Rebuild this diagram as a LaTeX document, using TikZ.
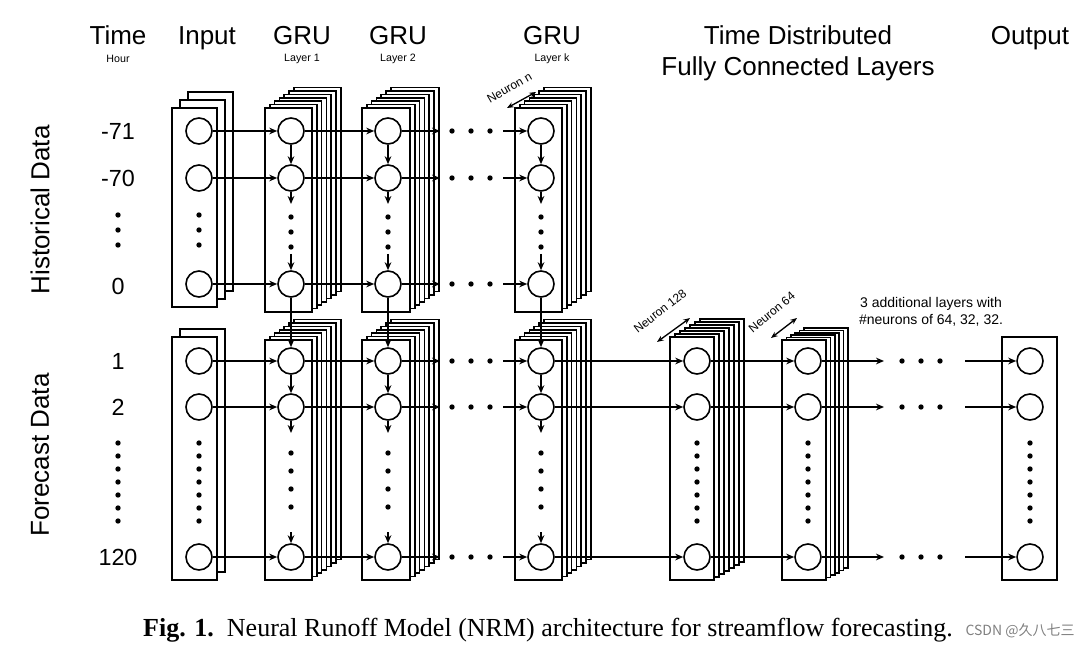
\documentclass[tikz,border=0pt]{standalone}
\usepackage{fontspec}
\setmainfont{Liberation Serif}
\newfontfamily\sansf{Liberation Sans}
\newfontfamily\cjkf{Noto Sans CJK SC}
\usetikzlibrary{arrows.meta,calc}
\newcommand\stk[7]{\foreach \k in {#7,...,0}{\draw[lay] ({#1+\k*#5},{#2+\k*#6}) rectangle ({#3+\k*#5},{#4+\k*#6});}}
\begin{document}
\begin{tikzpicture}[x=0.75pt,y=-0.75pt,
 neu/.style={circle,draw,line width=1.2pt,minimum size=19.5pt,inner sep=0pt,fill=white},
 arr/.style={-{Stealth[length=6pt,width=5pt]},line width=1.2pt},
 dar/.style={{Stealth[length=5pt,width=4pt]}-{Stealth[length=5pt,width=4pt]},line width=1pt},
 lay/.style={draw,fill=white,line width=1.2pt},
 dot/.style={circle,fill,inner sep=0pt,minimum size=4pt},
 hd/.style={font=\sansf\fontsize{19.5}{22}\selectfont,anchor=base},
 sm/.style={font=\sansf\fontsize{8}{9}\selectfont},
 nl/.style={font=\sansf\fontsize{9}{10}\selectfont,anchor=south west,inner sep=0pt},
 num/.style={font=\sansf\fontsize{17.5}{18}\selectfont}]
\useasboundingbox (0,0) rectangle (1091,648);
% headings
\node[hd] (tT) at (118,45) {Time};
\node[sm] (tH) at (118,59) {Hour};
\node[hd] (tI) at (207,45) {Input};
\node[hd] (tG1) at (302,45) {GRU};
\node[sm] (tL1) at (302,59) {Layer 1};
\node[hd] (tG2) at (398,45) {GRU};
\node[sm] (tL2) at (398,59) {Layer 2};
\node[hd] (tGk) at (552,45) {GRU};
\node[sm] (tLk) at (552,59) {Layer k};
\node[hd] (tTD) at (798,45) {Time Distributed};
\node[hd] (tFC) at (798,76) {Fully Connected Layers};
\node[hd] (tO) at (1030,45) {Output};
\node[font=\sansf\fontsize{19.5}{22}\selectfont,rotate=90] (hist) at (40,210) {Historical Data};
\node[font=\sansf\fontsize{19.5}{22}\selectfont,rotate=90] (fore) at (40,455) {Forecast Data};
% time labels
\node[num] (n71) at (118,131) {-71};
\node[num] (n70) at (118,178) {-70};
\node[num] (n0) at (118,286) {0};
\node[num] (n1) at (118,361) {1};
\node[num] (n2) at (118,407) {2};
\node[num] (n120) at (118,557) {120};
\foreach \y in {215,230,245} \node[dot] at (118,\y) {};
\foreach \y in {443,456,469,482,495,508,521} \node[dot] at (118,\y) {};
% layer boxes
\stk{172}{108}{217}{307}{8}{-8}{2}
\stk{172}{337}{217}{580}{8}{-8}{1}
\stk{265}{108}{312}{312}{4.8}{-3.4}{6}
\stk{265}{340}{312}{580}{4.8}{-3.4}{6}
\stk{362}{108}{410}{312}{4.8}{-3.4}{6}
\stk{362}{340}{410}{580}{4.8}{-3.4}{6}
\stk{515}{108}{562}{312}{4.8}{-3.4}{6}
\stk{515}{340}{562}{580}{4.8}{-3.4}{6}
\stk{670}{337}{714}{580}{5}{-3}{6}
\stk{782}{340}{826}{580}{4.4}{-2.4}{5}
\draw[lay] (1002,337) rectangle (1057,580);
% neurons
\foreach \c/\x in {in/199,ga/291,gb/388,gk/541}{
 \foreach \r/\y in {a/131,b/178,c/284}{\node[neu] (\c\r) at (\x,\y) {};}}
\foreach \c/\x in {in/199,ga/291,gb/388,gk/541,fa/697,fb/808,out/1030}{
 \foreach \r/\y in {d/361,e/407,f/557}{\node[neu] (\c\r) at (\x,\y) {};}}
% horizontal
\foreach \r/\y in {a/131,b/178,c/284,d/361,e/407,f/557}{
 \draw[arr] (in\r) -- (ga\r);
 \draw[arr] (ga\r) -- (gb\r);
 \coordinate (p\r) at (440,\y); \coordinate (q\r) at (503,\y);
 \draw[arr] (gb\r) -- (p\r);
 \draw[arr] (q\r) -- (gk\r);
 \foreach \x in {452,471,490} \node[dot] at (\x,\y) {};}
\foreach \r/\y in {d/361,e/407,f/557}{
 \draw[arr] (gk\r) -- (fa\r);
 \draw[arr] (fa\r) -- (fb\r);
 \coordinate (s\r) at (884,\y); \coordinate (t\r) at (965,\y);
 \draw[arr] (fb\r) -- (s\r);
 \draw[arr] (t\r) -- (out\r);
 \foreach \x in {902,921,940} \node[dot] at (\x,\y) {};}
% vertical
\foreach \c/\x in {ga/291,gb/388,gk/541}{
 \draw[arr] (\c a) -- (\c b);
 \coordinate (\c u) at (\x,204); \coordinate (\c v) at (\x,254);
 \draw[arr] (\c b) -- (\c u);
 \draw[arr] (\c v) -- (\c c);
 \foreach \y in {217,232,247} \node[dot] at (\x,\y) {};
 \draw[arr] (\c c) -- (\c d);
 \draw[arr] (\c d) -- (\c e);
 \coordinate (\c w) at (\x,433); \coordinate (\c z) at (\x,532);
 \draw[arr] (\c e) -- (\c w);
 \draw[arr] (\c z) -- (\c f);
 \foreach \y in {453,471,489,507} \node[dot] at (\x,\y) {};}
\foreach \y in {215,230,245} \node[dot] at (199,\y) {};
\foreach \x in {199,697,808,1030}{\foreach \y in {443,456,469,482,495,508,521} \node[dot] at (\x,\y) {};}
% neuron annotations
\coordinate (na1) at (507,108); \coordinate (na2) at (536,92);
\draw[dar] (na1) -- (na2);
\node[nl,rotate=30] (nn) at (490,104) {Neuron n};
\coordinate (nb1) at (657,342); \coordinate (nb2) at (690,318);
\draw[dar] (nb1) -- (nb2);
\node[nl,rotate=38] (n128) at (638,334) {Neuron 128};
\coordinate (nc1) at (771,338); \coordinate (nc2) at (797,318);
\draw[dar] (nc1) -- (nc2);
\node[nl,rotate=40] (n64) at (753,334) {Neuron 64};
\node[font=\sansf\fontsize{10.5}{12.5}\selectfont,align=center] (add) at (931,312) {3 additional layers with\\\#neurons of 64, 32, 32.};
% caption
\node[font=\fontsize{19.5}{22}\selectfont] (cap) at (548,630) {\textbf{Fig. 1.}\ \ Neural Runoff Model (NRM) architecture for streamflow forecasting.};
\node[font=\cjkf\fontsize{10.5}{12}\selectfont,text=gray] (wm) at (1020,631) {CSDN @久八七三};
\end{tikzpicture}
\end{document}
